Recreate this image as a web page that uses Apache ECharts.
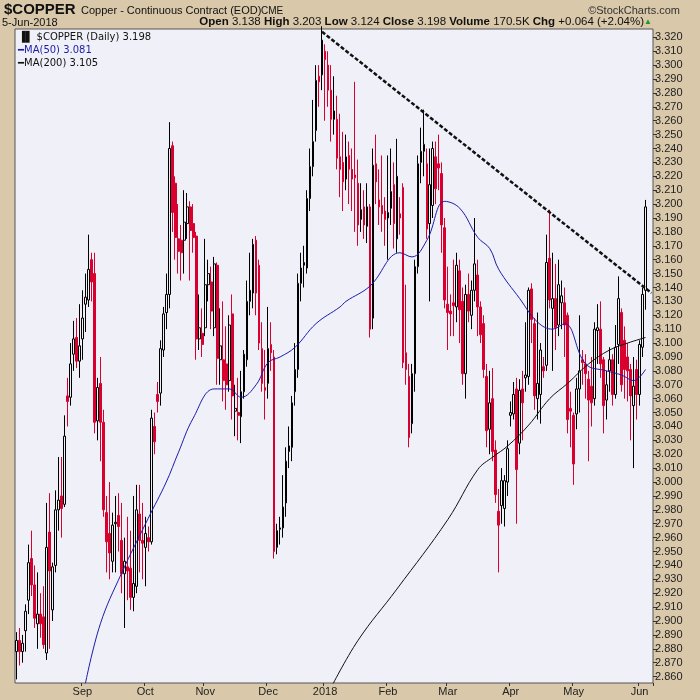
<!DOCTYPE html>
<html><head><meta charset="utf-8">
<script src="https://cdn.jsdelivr.net/npm/echarts@6/dist/echarts.min.js"></script>
<style>html,body{margin:0;padding:0;background:#d9c8a9;}#c{width:700px;height:700px;}</style>
</head><body><div id="c"></div>
<script>
// OHLC rows in thousandths: [open, close, low, high], one per trading day Aug 2017 - 5 Jun 2018
const ohlc = [
[2878,2886,2858,2892],[2886,2878,2868,2895],[2878,2884,2870,2890],[2893,2907,2878,2912],[2915,2942,2905,2955],
[2945,2926,2918,2965],[2926,2902,2895,2940],[2898,2905,2880,2935],[2905,2898,2888,2920],[2903,2883,2880,2925],
[2877,2953,2872,2985],[2964,2936,2880,2992],[2908,2939,2900,2942],[2940,2980,2935,2994],[2980,2987,2965,3018],
[2990,2981,2960,3018],[2984,3033,2982,3048],[3062,3058,3040,3075],[3061,3085,3055,3100],[3092,3103,3080,3116],
[3104,3087,3082,3118],[3087,3098,3075,3128],[3103,3118,3088,3138],[3128,3133,3108,3150],[3131,3153,3126,3178],
[3160,3144,3130,3165],[3150,3043,3035,3165],[3044,3068,3030,3075],[3071,3043,3015,3090],[3043,2980,2975,3052],
[2978,2957,2935,2990],[2963,2949,2930,3000],[2943,2969,2935,2978],[2970,2971,2935,2990],[2976,2968,2950,2992],
[2958,2934,2920,2985],[2934,2943,2895,2960],[2939,2936,2915,2975],[2938,2917,2908,2965],[2917,2927,2907,2990],
[2925,2980,2920,2998],[2977,2958,2935,2998],[2958,2956,2930,2985],[2953,2963,2925,2975],[2960,2957,2950,2968],
[2957,3046,2955,3052],[3040,3029,3020,3050],[3063,3058,3050,3072],[3064,3096,3055,3102],[3095,3121,3090,3126],
[3122,3135,3110,3150],[3135,3240,3125,3259],[3242,3194,3180,3245],[3215,3176,3160,3220],[3175,3166,3150,3200],
[3174,3165,3145,3185],[3174,3187,3150,3210],[3186,3198,3175,3208],[3198,3181,3145,3202],[3186,3176,3165,3200],
[3177,3103,3088,3180],[3103,3111,3095,3135],[3107,3099,3090,3125],[3111,3142,3105,3175],[3142,3150,3130,3160],
[3144,3123,3110,3155],[3111,3157,3105,3162],[3156,3089,3070,3158],[3088,3098,3070,3125],[3088,3073,3058,3130],
[3085,3070,3052,3112],[3073,3113,3065,3120],[3121,3062,3045,3135],[3051,3053,3033,3070],[3050,3048,3030,3075],
[3047,3065,3028,3080],[3065,3092,3060,3095],[3088,3130,3083,3145],[3130,3138,3120,3165],[3136,3171,3125,3175],
[3174,3136,3120,3177],[3156,3100,3095,3160],[3096,3071,3065,3115],[3068,3066,3045,3095],[3071,3096,3060,3126],
[3099,3093,3080,3115],[3090,2950,2945,3095],[2953,2965,2948,2970],[2966,2967,2955,2975],[2967,2982,2960,3005],
[2985,3015,2975,3025],[3022,3026,3010,3040],[3025,3057,3015,3062],[3065,3081,3055,3100],[3081,3143,3075,3150],
[3143,3154,3130,3165],[3156,3158,3140,3170],[3154,3204,3150,3210],[3204,3227,3195,3240],[3227,3245,3220,3275],
[3253,3289,3245,3300],[3292,3288,3270,3300],[3293,3318,3282,3328],[3310,3304,3260,3315],[3300,3282,3270,3310],
[3282,3261,3245,3300],[3261,3267,3250,3292],[3261,3233,3225,3278],[3234,3225,3205,3265],[3230,3216,3195,3252],
[3218,3234,3210,3250],[3235,3225,3200,3245],[3225,3218,3195,3240],[3221,3219,3180,3288],[3215,3185,3170,3232],
[3189,3196,3180,3215],[3198,3185,3175,3210],[3184,3198,3172,3215],[3198,3110,3104,3200],[3118,3228,3110,3240],
[3229,3216,3200,3250],[3203,3198,3185,3225],[3199,3193,3180,3235],[3195,3189,3170,3205],[3190,3194,3160,3235],
[3197,3209,3185,3240],[3214,3186,3168,3230],[3175,3220,3165,3247],[3193,3190,3178,3205],[3212,3086,3082,3215],
[3093,3081,3070,3142],[3076,3032,3025,3085],[3042,3078,3035,3085],[3078,3155,3065,3160],[3155,3229,3150,3235],
[3230,3238,3215,3255],[3238,3243,3220,3268],[3229,3182,3175,3240],[3186,3214,3130,3240],[3199,3240,3190,3245],
[3234,3211,3200,3245],[3229,3226,3210,3250],[3222,3185,3165,3230],[3183,3131,3125,3190],[3128,3122,3095,3155],
[3123,3121,3105,3135],[3129,3127,3105,3160],[3126,3156,3115,3165],[3152,3124,3100,3160],[3130,3078,3070,3140],
[3078,3135,3060,3142],[3135,3123,3115,3150],[3120,3138,3110,3145],[3138,3157,3130,3190],[3149,3126,3105,3160],
[3126,3106,3100,3130],[3114,3081,3075,3120],[3076,3037,3025,3085],[3038,3057,3020,3080],[3060,3022,3015,3082],
[3023,2991,2985,3030],[2979,2969,2935,2995],[2983,3001,2970,3010],[2981,3001,2968,3005],[3000,3024,2990,3030],
[3048,3050,3040,3058],[3049,3063,3045,3072],[3067,3009,2970,3075],[3028,3066,3020,3074],[3067,3057,3030,3080],
[3075,3077,3065,3115],[3076,3138,3070,3140],[3139,3117,3100,3143],[3114,3062,3052,3118],[3060,3071,3045,3122],
[3063,3095,3042,3100],[3083,3080,3075,3090],[3084,3158,3080,3178],[3161,3131,3125,3196],[3125,3132,3080,3165],
[3132,3111,3095,3157],[3113,3142,3105,3160],[3129,3134,3110,3145],[3129,3113,3090,3140],[3120,3045,3035,3122],
[3053,3051,3025,3065],[3048,3013,2998,3050],[3049,3067,3038,3075],[3067,3080,3050,3120],[3088,3086,3070,3095],
[3085,3078,3060,3092],[3074,3059,3015,3080],[3069,3057,3040,3090],[3060,3110,3055,3115],[3109,3111,3085,3128],
[3110,3085,3075,3130],[3088,3055,3035,3090],[3059,3070,3045,3080],[3080,3088,3065,3097],[3088,3063,3055,3092],
[3063,3097,3060,3113],[3099,3132,3085,3148],[3122,3070,3065,3125],[3102,3081,3060,3112],[3090,3080,3058,3100],
[3081,3062,3030,3085],[3055,3069,3010,3090],[3081,3063,3045,3088],[3063,3099,3055,3102],[3097,3135,3090,3140],
[3138,3198,3124,3203]
];
// Moving averages: [day index, value]
const ma50 = [[23,2.855],[28,2.898],[35,2.934],[44,2.974],[50,3.000],[54,3.021],[59,3.046],[66,3.067],[71,3.067],
[75,3.061],[80,3.070],[84,3.086],[88,3.090],[93,3.097],[100,3.114],[108,3.126],[110,3.130],[118,3.141],[128,3.165],
[132,3.162],[137,3.174],[143,3.202],[148,3.197],[154,3.176],[158,3.168],[161,3.153],[168,3.132],[174,3.115],
[179,3.110],[183,3.114],[190,3.085],[197,3.080],[202,3.077],[206,3.073],[210,3.081]];
const ma200 = [[105,2.852],[114,2.886],[127,2.923],[144,2.973],[154,3.009],[159,3.018],[164,3.026],[171,3.041],
[178,3.060],[184,3.071],[191,3.085],[198,3.095],[204,3.100],[210,3.104]];
const trend = [[102,3.324],[212,3.136]];
const monthIdx = [22,43,63,84,103,124,144,165,186,208];
const monthNames = ['Sep','Oct','Nov','Dec','2018','Feb','Mar','Apr','May','Jun'];
const yTicks = [];
for (let v = 2860; v <= 3320; v += 10) yTicks.push(v / 1000);

const nCat = ohlc.length + 2;
const cats = [];
for (let i = 0; i < nCat; i++) cats.push(String(i));
const candles = ohlc.map(r => [r[0]/1000, r[1]/1000, r[2]/1000, r[3]/1000]);
const labelMap = {};
monthIdx.forEach((k, j) => labelMap[k] = monthNames[j]);

const chart = echarts.init(document.getElementById('c'));
const F = 'Liberation Sans, Arial, sans-serif';
chart.setOption({
  backgroundColor: '#d9c8a9',
  animation: false,
  grid: {left: 15, right: 47, top: 29, bottom: 17, show: true, backgroundColor: '#f0f0f8', borderColor: '#555', borderWidth: 1},
  xAxis: {type: 'category', data: cats, boundaryGap: true,
    axisLine: {show: false},
    axisTick: {show: true, interval: i => labelMap[i] !== undefined, length: 3, inside: false, lineStyle: {color: '#333'}},
    axisLabel: {interval: i => labelMap[i] !== undefined, formatter: (v, i) => labelMap[i] || '',
      fontFamily: F, fontSize: 11, color: '#222', margin: 3},
    splitLine: {show: false}},
  yAxis: {type: 'value', position: 'right', min: 2.8554, max: 3.326, scale: true,
    axisLine: {show: false},
    axisTick: {show: true, length: 4, customValues: yTicks, lineStyle: {color: '#333'}},
    axisLabel: {customValues: yTicks, formatter: v => v.toFixed(3), fontFamily: F, fontSize: 11, color: '#222', margin: 2},
    splitLine: {show: false}},
  series: [
    {type: 'candlestick', data: candles, barWidth: 2.2,
      itemStyle: {color: '#f0f0f8', color0: '#d8002e', borderColor: '#000', borderColor0: '#d8002e', borderWidth: 1}},
    {type: 'line', data: ma50, smooth: 0.4, symbol: 'none', lineStyle: {color: '#1c1ca8', width: 1}, z: 3},
    {type: 'line', data: ma200, smooth: 0.4, symbol: 'none', lineStyle: {color: '#111', width: 1}, z: 3},
    {type: 'line', data: trend, symbol: 'none', lineStyle: {color: '#111', width: 2.5, type: [4, 2]}, z: 4}
  ],
  graphic: [
    {type: 'text', left: 4, top: 2, style: {text: '$COPPER', font: 'bold 15px ' + F, fill: '#111'}},
    {type: 'text', left: 81, top: 5, style: {text: 'Copper - Continuous Contract (EOD)', font: '11px ' + F, fill: '#111'}},
    {type: 'text', left: 261, top: 6, style: {text: 'CME', font: '10px ' + F, fill: '#111'}},
    {type: 'text', right: 20, top: 5, style: {text: '©StockCharts.com', font: '11px ' + F, fill: '#333'}},
    {type: 'text', left: 2, top: 17, style: {text: '5-Jun-2018', font: '11px ' + F, fill: '#111'}},
    {type: 'text', right: 56, top: 16, style: {
      text: '{b|Open} 3.138 {b|High} 3.203 {b|Low} 3.124 {b|Close} 3.198 {b|Volume} 170.5K {b|Chg} +0.064 (+2.04%)',
      font: '11.5px ' + F, fill: '#111', rich: {b: {font: 'bold 11.5px ' + F, fill: '#111'}}}},
    {type: 'text', right: 48, top: 18, style: {text: '▲', font: '8px ' + F, fill: '#1a9a2a'}},
    {type: 'text', left: 18, top: 32, style: {text: '▐▌ $COPPER (Daily) 3.198', font: '10px DejaVu Sans', fill: '#111'}},
    {type: 'text', left: 18, top: 45, style: {text: '━MA(50) 3.081', font: '10px DejaVu Sans', fill: '#1c1ca8'}},
    {type: 'text', left: 18, top: 58, style: {text: '━MA(200) 3.105', font: '10px DejaVu Sans', fill: '#111'}}
  ]
});
</script></body></html>
